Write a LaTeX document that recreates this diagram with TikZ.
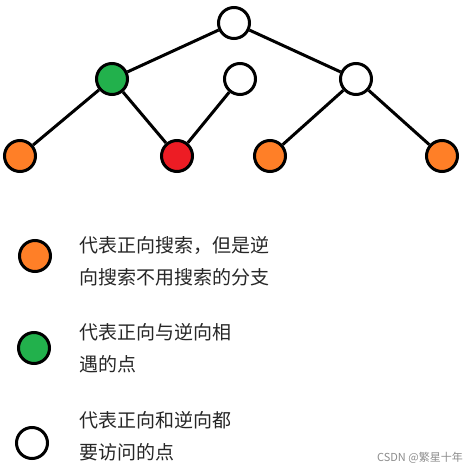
\documentclass[tikz,border=0pt]{standalone}
\usepackage{fontspec}
\newfontfamily\cjk{Noto Sans CJK SC}
\definecolor{orangeNode}{RGB}{255,127,39}
\definecolor{greenNode}{RGB}{34,177,76}
\definecolor{redNode}{RGB}{237,28,36}
\begin{document}
\begin{tikzpicture}[x=1pt,y=-1pt,
  vertex/.style={circle,draw=black,line width=3pt,minimum size=31pt,inner sep=0pt},
  legendtext/.style={anchor=west,align=left,inner sep=0pt,text=black!85,
    font=\cjk\fontsize{19}{32}\selectfont}]
\useasboundingbox (0,0) rectangle (474,470);
% tree
\node[vertex,fill=white] (root) at (234,23) {};
\node[vertex,fill=greenNode] (meet) at (112,79) {};
\node[vertex,fill=white] (back) at (240,79) {};
\node[vertex,fill=white] (right) at (356,79) {};
\node[vertex,fill=orangeNode] (leafA) at (20,156) {};
\node[vertex,fill=redNode] (target) at (177,156) {};
\node[vertex,fill=orangeNode] (leafB) at (270,156) {};
\node[vertex,fill=orangeNode] (leafC) at (442,156) {};
\draw [line width=3pt] (root) -- (meet);
\draw [line width=3pt] (root) -- (right);
\draw [line width=3pt] (meet) -- (leafA);
\draw [line width=3pt] (meet) -- (target);
\draw [line width=3pt] (back) -- (target);
\draw [line width=3pt] (right) -- (leafB);
\draw [line width=3pt] (right) -- (leafC);
% legend
\node[vertex,fill=orangeNode] (keyA) at (35,256) {};
\node[legendtext] (textA) at (79,261) {代表正向搜索，但是逆\\向搜索不用搜索的分支};
\node[vertex,fill=greenNode] (keyB) at (34,348) {};
\node[legendtext] (textB) at (79,348) {代表正向与逆向相\\遇的点};
\node[vertex,fill=white] (keyC) at (32,443) {};
\node[legendtext] (textC) at (79,436) {代表正向和逆向都\\要访问的点};
\node[anchor=east,inner sep=0pt,text=black!45,font=\cjk\fontsize{11}{12}\selectfont] (mark) at (463,458) {CSDN @繁星十年};
\end{tikzpicture}
\end{document}
